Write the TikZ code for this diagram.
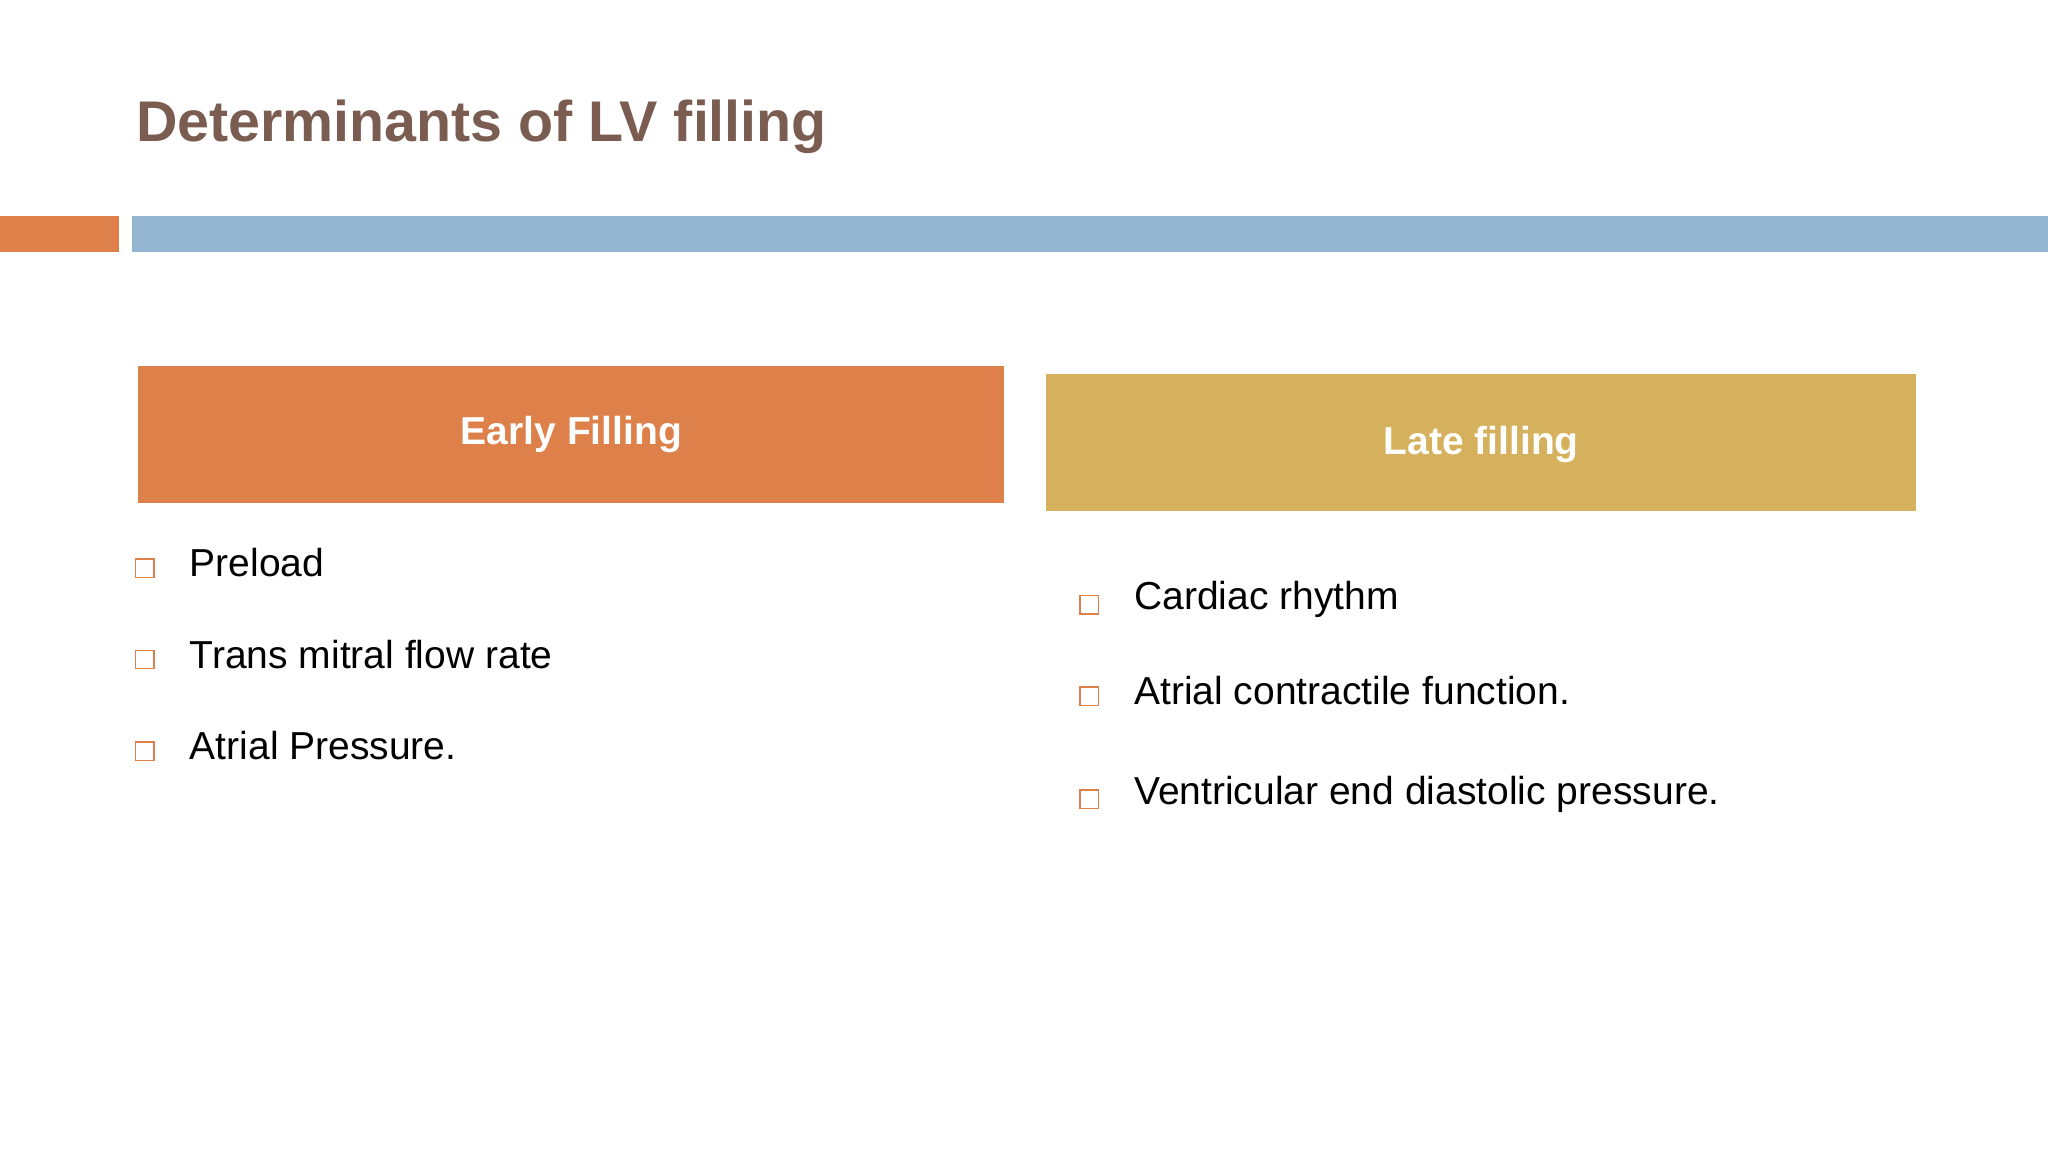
\documentclass[tikz,border=0pt]{standalone}
\usepackage{fontspec}
\setmainfont{Liberation Sans}
\definecolor{titlebrown}{HTML}{7A5C50}
\definecolor{barorange}{HTML}{DE8049}
\definecolor{barblue}{HTML}{95B6D3}
\definecolor{boxgold}{HTML}{D6B15D}
\begin{document}
\begin{tikzpicture}[x=0.02cm, y=-0.02cm,
    header/.style={inner sep=0pt, text=white, font=\fontsize{17}{20}\selectfont\bfseries},
    item/.style={anchor=west, inner sep=0pt, font=\fontsize{17}{20}\selectfont},
    tick/.style={draw=barorange, line width=0.6pt, minimum size=8pt, inner sep=0pt}
]
    \useasboundingbox[fill=white] (0,0) rectangle (1568,882);
    % title and rule
    \node[anchor=base west, inner sep=0pt, text=titlebrown,
        font=\fontsize{25}{30}\selectfont\bfseries] (title) at (104,108) {Determinants of LV filling};
    \fill[barorange] (0,165) rectangle (91,193);
    \fill[barblue] (101,165) rectangle (1568,193);
    % column headers
    \fill[barorange] (106,280) rectangle (769,385);
    \node[header] (early) at (437.5,333) {Early Filling};
    \fill[boxgold] (801,286) rectangle (1467,391);
    \node[header] (late) at (1134,340) {Late filling};
    % left items
    \node[tick] (s1) at (111,435) {};
    \node[item] (preload) at (145,431) {Preload};
    \node[tick] (s2) at (111,505) {};
    \node[item] (flow) at (145,501) {Trans mitral flow rate};
    \node[tick] (s3) at (111,575) {};
    \node[item] (atrial) at (145,571) {Atrial Pressure.};
    % right items
    \node[tick] (r1) at (834,463) {};
    \node[item] (rhythm) at (868,459) {Cardiac rhythm};
    \node[tick] (r2) at (834,533) {};
    \node[item] (contract) at (868,529) {Atrial contractile function.};
    \node[tick] (r3) at (834,612) {};
    \node[item] (edp) at (868,608) {Ventricular end diastolic pressure.};
\end{tikzpicture}
\end{document}
